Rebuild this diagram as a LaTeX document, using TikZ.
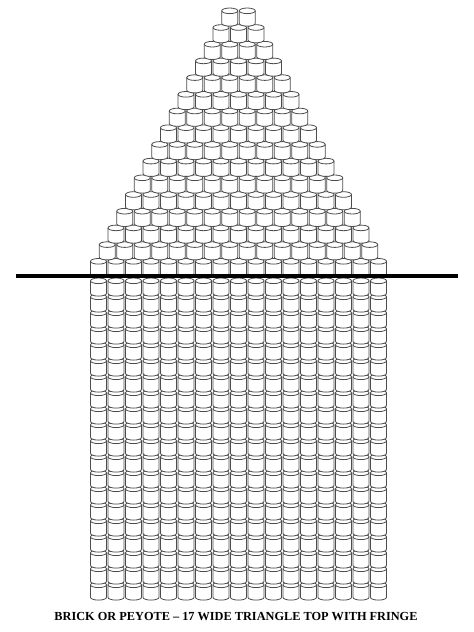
\documentclass[tikz,border=0pt]{standalone}
\usepackage{fontspec}
\setmainfont{Liberation Serif}
\begin{document}
\begin{tikzpicture}[x=1pt,y=1pt,
  beadline/.style={draw=black!70, line width=0.8pt, fill=white},
  divider/.style={line width=3.2pt, black},
  caption/.style={font=\bfseries\fontsize{12.3}{14}\selectfont, inner sep=0pt}]
\useasboundingbox (0,0) rectangle (474,-632);
\newcommand{\beadat}[2]{%
  \filldraw[beadline] (#1-8,#2) -- (#1-8,#2-12.5)
     arc[start angle=180,end angle=360,x radius=8,y radius=2.8]
     -- (#1+8,#2) arc[start angle=0,end angle=180,x radius=8,y radius=2.8] -- cycle;
  \draw[beadline,fill=none] (#1-8,#2) arc[start angle=180,end angle=360,x radius=8,y radius=2.8];
}
% fringe: 17 columns x 20 rows
\foreach \j in {19,18,...,0}{
  \foreach \i in {0,...,16}{
    \pgfmathsetmacro{\cx}{238.5+(\i-8)*17.5}
    \pgfmathsetmacro{\cy}{-(280.8+16*\j)}
    \beadat{\cx}{\cy}
  }
}
% triangle: rows of 2..17 beads
\foreach \k in {15,14,...,0}{
  \pgfmathtruncatemacro{\n}{\k+1}
  \foreach \i in {0,...,\n}{
    \pgfmathsetmacro{\cx}{238.5+(\i-(\n)/2)*17.5}
    \pgfmathsetmacro{\cy}{-(10.8+16.7*\k)}
    \beadat{\cx}{\cy}
  }
}
\coordinate (L) at (16,-276);
\coordinate (R) at (458,-276);
\draw[divider] (L) -- (R);
\node[caption] (cap) at (236,-617) {BRICK OR PEYOTE -- 17 WIDE TRIANGLE TOP WITH FRINGE};
\end{tikzpicture}
\end{document}
